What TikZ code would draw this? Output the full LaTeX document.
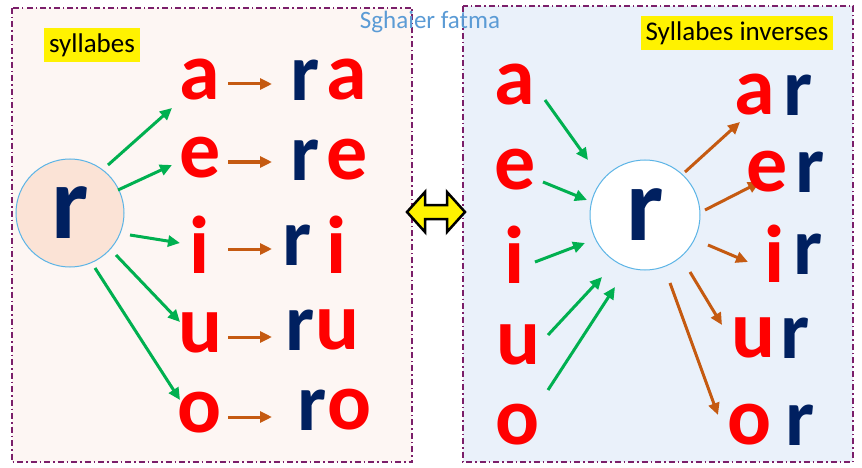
\documentclass[tikz,border=0pt]{standalone}
\usepackage{fontspec}
\setmainfont{Carlito}
\usetikzlibrary{arrows.meta}
\definecolor{navy}{HTML}{002060}
\definecolor{gr}{HTML}{00B050}
\definecolor{org}{HTML}{C55A11}
\definecolor{pur}{HTML}{7B1F6A}
\tikzset{
 frame/.style={draw=pur,line width=1.5pt,dash pattern=on 6pt off 3pt on 1.5pt off 3pt},
 vw/.style={text=red,font=\fontsize{82}{82}\selectfont\bfseries,inner sep=0},
 rr/.style={text=navy,font=\fontsize{82}{82}\selectfont\bfseries,inner sep=0},
 ga/.style={draw=gr,line width=3pt,-{Triangle[length=12pt,width=11pt]}},
 oa/.style={draw=org,line width=3pt,-{Triangle[length=12pt,width=11pt]}},
 lab/.style={fill=yellow,font=\fontsize{27}{27}\selectfont,inner sep=5pt}
}
\begin{document}
\begin{tikzpicture}[x=1pt,y=-1pt]
\useasboundingbox (0,0) rectangle (862,468);
\draw[frame,fill={rgb,255:red,253;green,246;blue,243}] (12,8) rectangle (412,462);
\draw[frame,fill={rgb,255:red,234;green,241;blue,250}] (463,6) rectangle (853,462);
\node[text={rgb,255:red,91;green,155;blue,213},font=\fontsize{25}{25}\selectfont] (t) at (430,22) {Sghaier fatma};
\node[lab] (l1) at (92,45) {syllabes};
\node[lab] (l2) at (737,33) {Syllabes inverses};
% left
\node[circle,draw={rgb,255:red,91;green,180;blue,230},line width=1pt,fill={rgb,255:red,251;green,227;blue,214},minimum size=108pt,inner sep=0] (c1) at (70,213) {};
\node[rr,font=\fontsize{105}{105}\selectfont\bfseries] at (c1) {r};
\foreach \n/\l/\y in {a/a/80,e/e/158,i/i/245,u/u/333,o/o/413}{
 \node[vw] (L\n) at (200,\y) {\l};
 \coordinate (S\n) at (228,\y+4);
 \coordinate (E\n) at (272,\y+4);
 \draw[oa] (S\n) -- (E\n);
}
\node[rr] (r1) at (305,80) {r}; \node[vw] (v1) at (347,80) {a};
\node[rr] (r2) at (305,160) {r}; \node[vw] (v2) at (347,160) {e};
\node[rr] (r3) at (297,245) {r}; \node[vw] (v3) at (337,245) {i};
\node[rr] (r4) at (300,330) {r}; \node[vw] (v4) at (337,330) {u};
\node[rr] (r5) at (312,410) {r}; \node[vw] (v5) at (350,410) {o};
\coordinate (g1) at (172,108); \coordinate (g2) at (172,165); \coordinate (g3) at (180,243);
\coordinate (g4) at (180,322); \coordinate (g5) at (180,400);
\draw[ga] (108,165) -- (g1); \draw[ga] (118,190) -- (g2); \draw[ga] (130,235) -- (g3);
\draw[ga] (116,255) -- (g4); \draw[ga] (95,268) -- (g5);
% double arrow
\draw[line width=2.5pt,fill=yellow,line join=miter] (407,212) -- (425,192) -- (425,205) -- (447,205) -- (447,192) -- (465,212) -- (447,232) -- (447,219) -- (425,219) -- (425,232) -- cycle;
% right
\node[circle,draw={rgb,255:red,91;green,180;blue,230},line width=1pt,fill=white,minimum size=110pt,inner sep=0] (c2) at (645,215) {};
\node[rr,font=\fontsize{105}{105}\selectfont\bfseries] at (c2) {r};
\node[vw] (Ra) at (515,85) {a}; \node[vw] (Re) at (515,170) {e}; \node[vw] (Ri) at (515,255) {i};
\node[vw] (Ru) at (518,345) {u}; \node[vw] (Ro) at (518,425) {o};
\draw[ga] (545,100) -- (588,160); \draw[ga] (543,182) -- (587,200); \draw[ga] (535,262) -- (585,243);
\draw[ga] (548,335) -- (602,277); \draw[ga] (548,390) -- (615,287);
\draw[oa] (685,172) -- (740,122); \draw[oa] (705,210) -- (760,182); \draw[oa] (708,245) -- (748,262);
\draw[oa] (690,272) -- (722,325); \draw[oa] (670,283) -- (718,415);
\node[vw] at (755,95) {a}; \node[rr] at (798,95) {r};
\node[vw] at (767,172) {e}; \node[rr] at (810,172) {r};
\node[vw] at (775,254) {i}; \node[rr] at (808,254) {r};
\node[vw] at (753,338) {u}; \node[rr] at (795,338) {r};
\node[vw] at (750,425) {o}; \node[rr] at (800,425) {r};
\end{tikzpicture}
\end{document}
